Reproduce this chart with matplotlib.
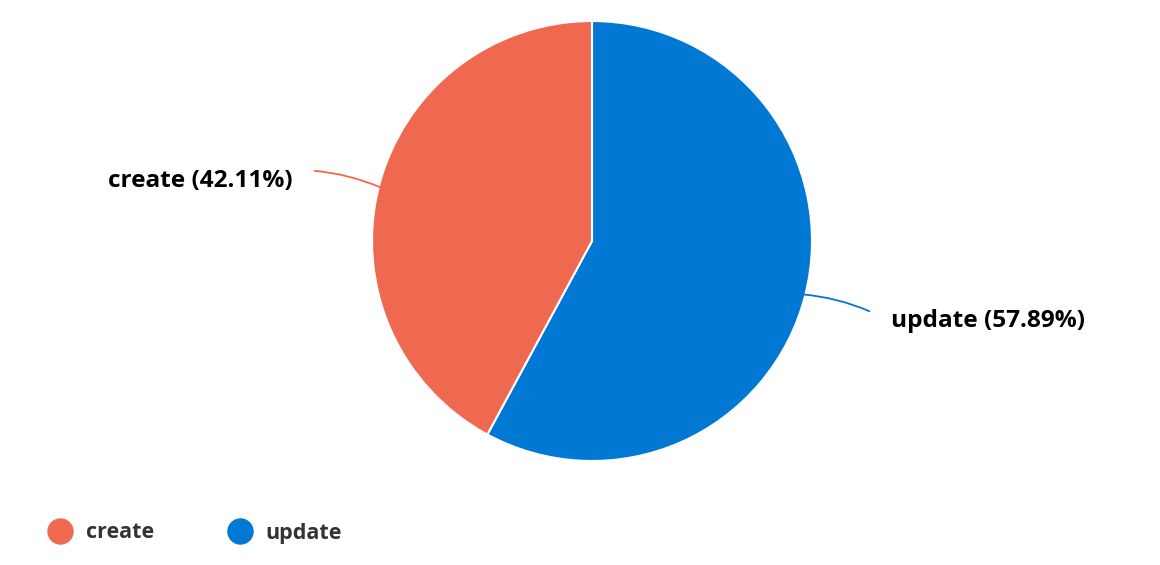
import numpy as np
import matplotlib.pyplot as plt
from matplotlib.lines import Line2D

# данные
labels = ['create', 'update']
values = [42.11, 57.89]
colors = ['#EF6950', '#0078D4']

plt.rcParams['font.family'] = ['Open Sans', 'DejaVu Sans']

W, H = 1160, 565
fig = plt.figure(figsize=(W / 100, H / 100), dpi=100)

# круг: центр (592, 241), радиус 220 px
cx, cy, r = 592, 241, 220
ax = fig.add_axes([(cx - r) / W, (H - cy - r) / H, 2 * r / W, 2 * r / H])

# update по часовой от верха, create - против
wedges, _ = ax.pie(values[::-1], colors=colors[::-1], startangle=90, counterclock=False,
                   wedgeprops=dict(edgecolor='white', linewidth=1.5))
wedges = wedges[::-1]
ax.set_xlim(-1, 1)
ax.set_ylim(-1, 1)
ax.set_aspect('auto')
ax.axis('off')

for w, lab, val, col in zip(wedges, labels, values, colors):
    ang = np.deg2rad((w.theta1 + w.theta2) / 2)
    x0, y0 = np.cos(ang), np.sin(ang)
    x1, y1 = 1.3 * x0, 1.3 * y0
    side = np.sign(x0)
    ax.annotate('', xy=(0.99 * x0, 0.99 * y0), xytext=(x1, y1),
                arrowprops=dict(arrowstyle='-', color=col, lw=1.3,
                                connectionstyle='arc3,rad=%.2f' % (0.08 * side),
                                shrinkA=0, shrinkB=0),
                annotation_clip=False)
    ax.text(x1 + side * 0.1, y1 - 0.045, '%s (%.2f%%)' % (lab, val),
            ha='left' if side > 0 else 'right', va='center',
            fontsize=17.6, fontweight='bold', color='black', clip_on=False)

handles = [Line2D([], [], marker='o', linestyle='', markersize=18,
                  markerfacecolor=c, markeredgecolor=c) for c in colors]
leg = fig.legend(handles, labels, loc='center left', bbox_to_anchor=(48 / W, 1 - 533 / H),
                 ncol=2, frameon=False, fontsize=15.5, handlelength=1.15, handletextpad=0.6,
                 columnspacing=3.45, borderpad=0, borderaxespad=0)
for t in leg.get_texts():
    t.set_color('#333333')
    t.set_fontweight('bold')

fig.savefig('out.png', dpi=100)
